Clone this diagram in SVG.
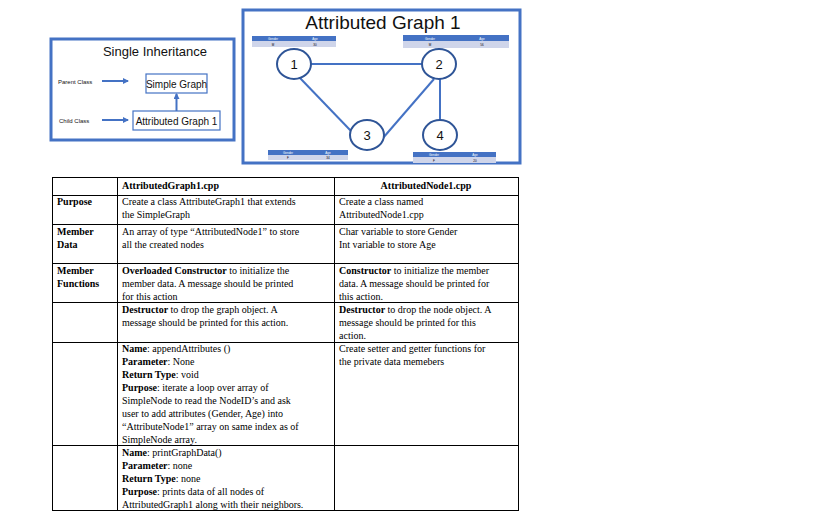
<svg xmlns="http://www.w3.org/2000/svg" width="819" height="520" viewBox="0 0 819 520">
<style>
.frame{fill:#fff;stroke:#4472C4;stroke-width:3}
.box{fill:#fff;stroke:#4472C4;stroke-width:1.2}
.sans{font-family:"Liberation Sans",Arial,sans-serif;fill:#111}
.node{fill:#fff;stroke:#2F5597;stroke-width:2}
.edge{stroke:#4472C4;stroke-width:2;fill:none}
.th{fill:#4472C4}
.td{fill:#CFD5EA}
.tt{font-family:"Liberation Sans",Arial,sans-serif;font-size:3px;text-anchor:middle}
.cell{stroke:#000;stroke-width:1;fill:none}
.tx{font-family:"Liberation Serif","Times New Roman",serif;font-size:10px;fill:#000}
.b{font-weight:bold}
</style>
<defs>
<marker id="ar" markerWidth="6" markerHeight="6" refX="5" refY="3" orient="auto" markerUnits="userSpaceOnUse"><path d="M0,0 L6,3 L0,6 z" fill="#4472C4"/></marker>
</defs>
<rect width="819" height="520" fill="#fff"/>
<g id="inheritance">
<rect class="frame" x="51" y="39" width="183" height="101"/>
<text class="sans" x="155" y="56" font-size="13" text-anchor="middle">Single Inheritance</text>
<text class="sans" x="58" y="84" font-size="6">Parent Class</text>
<text class="sans" x="59" y="123" font-size="6">Child Class</text>
<g id="simplegraph"><rect class="box" x="146" y="74" width="61" height="19"/><text class="sans" x="176.5" y="88" font-size="10" text-anchor="middle">Simple Graph</text></g>
<g id="attributedgraph1"><rect class="box" x="133" y="111" width="87" height="19"/><text class="sans" x="176.5" y="125" font-size="10" text-anchor="middle">Attributed Graph 1</text></g>
</g>
<g id="graph">
<rect class="frame" x="243" y="10" width="277" height="153"/>
<text class="sans" x="383" y="29" font-size="19" text-anchor="middle">Attributed Graph 1</text>
<g id="t1"><rect class="th" x="252" y="36" width="84" height="5"/><rect class="td" x="252" y="41" width="84" height="6"/><text class="tt" x="273" y="40" fill="#fff">Gender</text><text class="tt" x="315" y="40" fill="#fff">Age</text><text class="tt" x="273" y="45.5">M</text><text class="tt" x="315" y="45.5">30</text></g>
<g id="t2"><rect class="th" x="403" y="35" width="106" height="6"/><rect class="td" x="403" y="41" width="106" height="7"/><text class="tt" x="430" y="40" fill="#fff">Gender</text><text class="tt" x="482" y="40" fill="#fff">Age</text><text class="tt" x="430" y="46">M</text><text class="tt" x="482" y="46">56</text></g>
<g id="t3"><rect class="th" x="268" y="150" width="80" height="5"/><rect class="td" x="268" y="155" width="80" height="5"/><text class="tt" x="288" y="154" fill="#fff">Gender</text><text class="tt" x="328" y="154" fill="#fff">Age</text><text class="tt" x="288" y="159">F</text><text class="tt" x="328" y="159">34</text></g>
<g id="t4"><rect class="th" x="413" y="152" width="83" height="5"/><rect class="td" x="413" y="157" width="83" height="6"/><text class="tt" x="434" y="156" fill="#fff">Gender</text><text class="tt" x="475" y="156" fill="#fff">Age</text><text class="tt" x="434" y="161.5">F</text><text class="tt" x="475" y="161.5">20</text></g>
</g>
<g id="connectors">
<line x1="102" y1="81" x2="128" y2="81" class="edge" stroke-width="1" marker-end="url(#ar)"/>
<line x1="102" y1="120" x2="128" y2="120" class="edge" stroke-width="1" marker-end="url(#ar)"/>
<line x1="176.5" y1="111" x2="176.5" y2="94" class="edge" stroke-width="1.5" marker-end="url(#ar)"/>
<line class="edge" x1="311" y1="64" x2="422" y2="64"/>
<line class="edge" x1="300" y1="78" x2="351" y2="131"/>
<line class="edge" x1="434" y1="79" x2="383" y2="138"/>
<line class="edge" x1="440" y1="79" x2="440" y2="120"/>
</g>
<g id="n1"><ellipse class="node" cx="294" cy="64" rx="17" ry="15"/><text class="sans" x="294" y="69" font-size="13" text-anchor="middle">1</text></g>
<g id="n2"><ellipse class="node" cx="439" cy="64" rx="17" ry="15"/><text class="sans" x="439" y="69" font-size="13" text-anchor="middle">2</text></g>
<g id="n3"><ellipse class="node" cx="367" cy="135" rx="17" ry="15"/><text class="sans" x="367" y="140" font-size="13" text-anchor="middle">3</text></g>
<g id="n4"><ellipse class="node" cx="440" cy="135" rx="17" ry="15"/><text class="sans" x="440" y="140" font-size="13" text-anchor="middle">4</text></g>
<g id="table">
<rect class="cell" x="52.5" y="177.5" width="466" height="333"/>
<path class="cell" d="M117.5,177.5V510.5 M334.5,177.5V510.5 M52.5,195.5H518.5 M52.5,224.5H518.5 M52.5,263.5H518.5 M52.5,302.5H518.5 M52.5,342.5H518.5 M52.5,445.5H518.5"/>
<g class="tx">
<text x="122" y="189" class="b">AttributedGraph1.cpp</text>
<text x="426" y="189" class="b" text-anchor="middle">AttributedNode1.cpp</text>
<text x="57" y="205" class="b">Purpose</text>
<text x="122" y="205">Create a class AttributeGraph1 that extends</text>
<text x="122" y="218">the SimpleGraph</text>
<text x="339" y="205">Create a class named</text>
<text x="339" y="218">AttributedNode1.cpp</text>
<text x="57" y="235" class="b">Member</text>
<text x="57" y="248" class="b">Data</text>
<text x="122" y="235">An array of type “AttributedNode1” to store</text>
<text x="122" y="248">all the created nodes</text>
<text x="339" y="235">Char variable to store Gender</text>
<text x="339" y="248">Int variable to store Age</text>
<text x="57" y="274" class="b">Member</text>
<text x="57" y="287" class="b">Functions</text>
<text x="122" y="274"><tspan class="b">Overloaded Constructor</tspan> to initialize the</text>
<text x="122" y="287">member data. A message should be printed</text>
<text x="122" y="300">for this action</text>
<text x="339" y="274"><tspan class="b">Constructor</tspan> to initialize the member</text>
<text x="339" y="287">data. A message should be printed for</text>
<text x="339" y="300">this action.</text>
<text x="122" y="313"><tspan class="b">Destructor</tspan> to drop the graph object. A</text>
<text x="122" y="326">message should be printed for this action.</text>
<text x="339" y="313"><tspan class="b">Destructor</tspan> to drop the node object. A</text>
<text x="339" y="326">message should be printed for this</text>
<text x="339" y="339">action.</text>
<text x="122" y="352"><tspan class="b">Name</tspan>: appendAttributes ()</text>
<text x="122" y="365"><tspan class="b">Parameter</tspan>: None</text>
<text x="122" y="378"><tspan class="b">Return Type</tspan>: void</text>
<text x="122" y="391"><tspan class="b">Purpose</tspan>: iterate a loop over array of</text>
<text x="122" y="404">SimpleNode to read the NodeID’s and ask</text>
<text x="122" y="417">user to add attributes (Gender, Age) into</text>
<text x="122" y="430">“AttributeNode1” array on same index as of</text>
<text x="122" y="443">SimpleNode array.</text>
<text x="339" y="352">Create setter and getter functions for</text>
<text x="339" y="365">the private data memebers</text>
<text x="122" y="456"><tspan class="b">Name</tspan>: printGraphData()</text>
<text x="122" y="469"><tspan class="b">Parameter</tspan>: none</text>
<text x="122" y="482"><tspan class="b">Return Type</tspan>: none</text>
<text x="122" y="495"><tspan class="b">Purpose</tspan>:  prints data of all nodes of</text>
<text x="122" y="508">AttributedGraph1 along with their neighbors.</text>
</g>
</g>
</svg>
